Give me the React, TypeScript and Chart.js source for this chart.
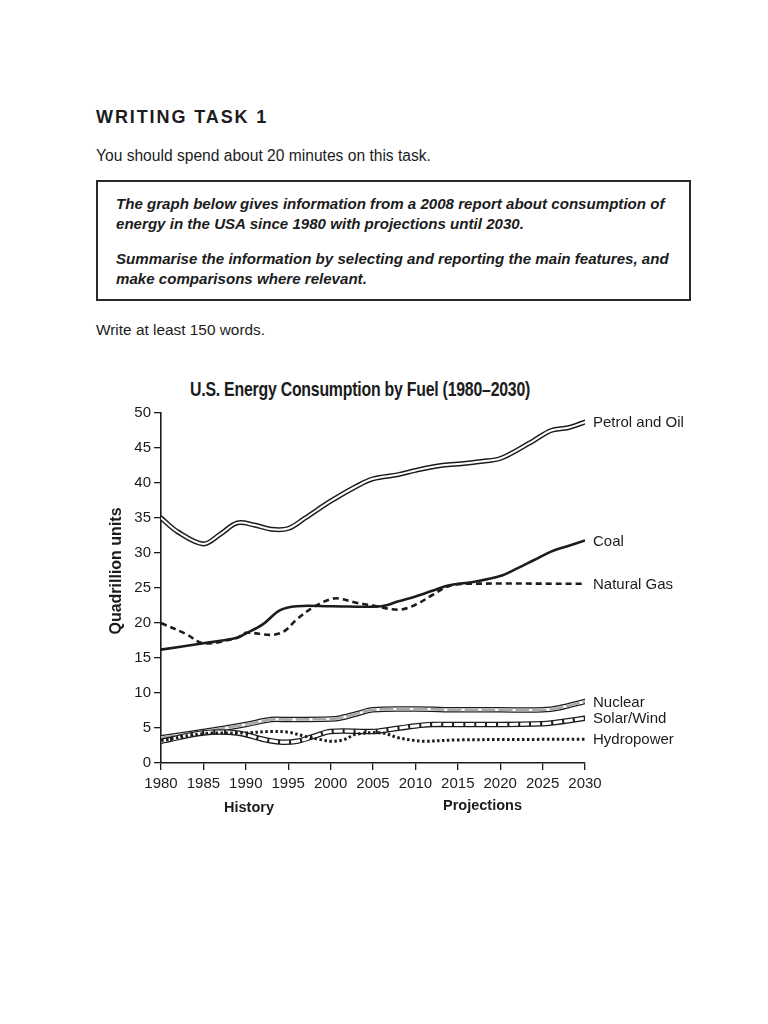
import React, { useEffect, useRef } from "react";
import { Chart, registerables } from "chart.js";

Chart.register(...registerables);

// ---------- data ----------
const xTickYears = [1980, 1985, 1990, 1995, 2000, 2005, 2010, 2015, 2020, 2025, 2030];
const yTickValues = [0, 5, 10, 15, 20, 25, 30, 35, 40, 45, 50];
const yAxisTitle = "Quadrillion units";

const petrolYears = [1980, 1982, 1985, 1987, 1989, 1991, 1993, 1995, 1997, 2000, 2003, 2005, 2008, 2010, 2013, 2015, 2018, 2020, 2022, 2024, 2026, 2028, 2030];
const petrolValues = [35.0, 33.0, 31.3, 32.7, 34.3, 34.0, 33.4, 33.5, 35.0, 37.4, 39.5, 40.6, 41.2, 41.8, 42.5, 42.7, 43.1, 43.5, 44.7, 46.1, 47.5, 47.9, 48.7];

const coalYears = [1980, 1985, 1989, 1990, 1992, 1994, 1996, 2000, 2006, 2008, 2010, 2012, 2014, 2017, 2020, 2022, 2024, 2026, 2028, 2030];
const coalValues = [16.2, 17.1, 17.9, 18.5, 19.8, 21.8, 22.4, 22.4, 22.4, 23.1, 23.8, 24.6, 25.4, 25.9, 26.7, 27.8, 29.0, 30.2, 31.0, 31.8];

const gasYears = [1980, 1983, 1985, 1989, 1990, 1993, 1994.5, 1996, 1998, 2000, 2001, 2003, 2005, 2008, 2010, 2012, 2014, 2016, 2030];
const gasValues = [20.0, 18.4, 17.1, 17.9, 18.6, 18.3, 18.8, 20.5, 22.3, 23.4, 23.5, 22.9, 22.5, 21.9, 22.6, 24.0, 25.3, 25.6, 25.6];

const nuclearYears = [1980, 1985, 1990, 1993, 1995, 2000, 2001, 2003, 2005, 2010, 2015, 2020, 2025, 2027, 2030];
const nuclearValues = [3.6, 4.5, 5.5, 6.2, 6.2, 6.3, 6.4, 7.0, 7.6, 7.7, 7.6, 7.6, 7.6, 7.9, 8.8];

const solarYears = [1980, 1985, 1989, 1992, 1994, 1996, 1998, 2000, 2005, 2007, 2010, 2012, 2015, 2020, 2025, 2026, 2030];
const solarValues = [3.1, 4.3, 4.3, 3.4, 3.0, 3.1, 3.8, 4.5, 4.5, 4.8, 5.3, 5.5, 5.5, 5.5, 5.6, 5.7, 6.4];

const hydroYears = [1980, 1985, 1990, 1993, 1995, 1997, 1999, 2000, 2001.5, 2003, 2006, 2008, 2010, 2011, 2015, 2030];
const hydroValues = [3.2, 4.2, 4.3, 4.5, 4.4, 3.8, 3.3, 3.1, 3.3, 4.1, 4.3, 3.6, 3.2, 3.1, 3.3, 3.4];

const seriesNames = ["Petrol and Oil", "Coal", "Natural Gas", "Nuclear", "Solar/Wind", "Hydropower"];

// ---------- helpers ----------
const pts = (xs: number[], ys: number[]) => xs.map((x, i) => ({ x, y: ys[i] }));
const INK = "#1c1c1c";
const FONT = "'Liberation Sans', Arial, Helvetica, sans-serif";

const endLabels = {
  id: "endLabels",
  afterDatasetsDraw(chart: any) {
    const ctx = chart.ctx;
    chart.data.datasets.forEach((ds: any, i: number) => {
      if (!ds.endLabel) return;
      const meta = chart.getDatasetMeta(i);
      const p = meta.data[meta.data.length - 1];
      if (!p) return;
      ctx.save();
      ctx.font = `15px ${FONT}`;
      ctx.fillStyle = INK;
      ctx.textBaseline = "middle";
      ctx.textAlign = "left";
      ctx.fillText(ds.endLabel, p.x + 8, p.y + 1);
      ctx.restore();
    });
  },
  afterDraw(chart: any) {
    const ctx = chart.ctx;
    ctx.save();
    ctx.font = `bold 16px ${FONT}`;
    ctx.fillStyle = INK;
    ctx.textAlign = "center";
    ctx.textBaseline = "middle";
    ctx.translate(17, 201);
    ctx.rotate(-Math.PI / 2);
    ctx.fillText(yAxisTitle, 0, 0);
    ctx.restore();
  },
};

function EnergyChart() {
  const ref = useRef<HTMLCanvasElement | null>(null);
  useEffect(() => {
    if (!ref.current) return;
    const base = { tension: 0.35, pointRadius: 0, fill: false, borderJoinStyle: "round" as const };
    const chart = new Chart(ref.current, {
      type: "line",
      data: {
        datasets: [
          // Petrol and Oil: double line
          { ...base, data: pts(petrolYears, petrolValues), borderColor: INK, borderWidth: 5, borderCapStyle: "round", order: 20 },
          { ...base, data: pts(petrolYears, petrolValues), borderColor: "#ffffff", borderWidth: 2, borderCapStyle: "round", order: 19, endLabel: seriesNames[0] } as any,
          // Coal
          { ...base, data: pts(coalYears, coalValues), borderColor: INK, borderWidth: 2.6, order: 11, endLabel: seriesNames[1] } as any,
          // Natural gas
          { ...base, data: pts(gasYears, gasValues), borderColor: INK, borderWidth: 2.6, borderDash: [6, 4], order: 10, endLabel: seriesNames[2] } as any,
          // Nuclear: outlined grey band
          { ...base, data: pts(nuclearYears, nuclearValues), borderColor: INK, borderWidth: 5.5, borderCapStyle: "round", order: 9 },
          { ...base, data: pts(nuclearYears, nuclearValues), borderColor: "#ffffff", borderWidth: 3, borderCapStyle: "round", order: 8 },
          { ...base, data: pts(nuclearYears, nuclearValues), borderColor: "#a8a8a8", borderWidth: 2.6, borderDash: [14, 3], order: 7, endLabel: seriesNames[3] } as any,
          // Solar/Wind: outlined white band with ticks
          { ...base, data: pts(solarYears, solarValues), borderColor: INK, borderWidth: 5.5, borderCapStyle: "round", order: 6 },
          { ...base, data: pts(solarYears, solarValues), borderColor: "#ffffff", borderWidth: 3, borderDash: [9, 2], borderCapStyle: "butt", order: 5, endLabel: seriesNames[4] } as any,
          // Hydropower: dotted
          { ...base, data: pts(hydroYears, hydroValues), borderColor: INK, borderWidth: 3, borderDash: [2.5, 2.5], order: 1, endLabel: seriesNames[5] } as any,
        ],
      },
      options: {
        animation: false,
        responsive: false,
        maintainAspectRatio: false,
        layout: { padding: { top: 43, right: 115, bottom: 0, left: 0 } },
        plugins: { legend: { display: false }, tooltip: { enabled: false }, title: { display: false } },
        scales: {
          x: {
            type: "linear",
            min: 1980,
            max: 2030,
            afterBuildTicks: (scale: any) => {
              scale.ticks = xTickYears.map((v) => ({ value: v }));
            },
            afterFit: (scale: any) => {
              scale.height = 67;
            },
            ticks: {
              autoSkip: false,
              maxRotation: 0,
              padding: 5,
              color: INK,
              font: { family: FONT, size: 15 },
              callback: (v: any) => String(v),
            },
            grid: { display: true, drawOnChartArea: false, drawTicks: true, tickLength: 7, color: INK, lineWidth: 1.3 },
            border: { display: true, color: INK, width: 1.6 },
          },
          y: {
            type: "linear",
            min: 0,
            max: 50,
            afterBuildTicks: (scale: any) => {
              scale.ticks = yTickValues.map((v) => ({ value: v }));
            },
            afterFit: (scale: any) => {
              scale.width = 61;
            },
            ticks: {
              padding: 3,
              color: INK,
              font: { family: FONT, size: 15 },
              callback: (v: any) => String(v),
            },
            title: { display: false },
            grid: { display: true, drawOnChartArea: false, drawTicks: true, tickLength: 7, color: INK, lineWidth: 1.3 },
            border: { display: true, color: INK, width: 1.6 },
          },
        },
      } as any,
      plugins: [endLabels],
    });
    return () => chart.destroy();
  }, []);
  return (
    <canvas
      ref={ref}
      width={600}
      height={460}
      style={{ position: "absolute", left: 100, top: 370, width: 600, height: 460 }}
    />
  );
}

const txt = (extra: React.CSSProperties): React.CSSProperties => ({
  position: "absolute",
  whiteSpace: "nowrap",
  lineHeight: 1,
  fontFamily: FONT,
  color: INK,
  margin: 0,
  ...extra,
});

export default function App() {
  return (
    <div style={{ position: "absolute", left: 0, top: 0, width: 768, height: 1024, background: "#ffffff", overflow: "hidden" }}>
      <div style={txt({ left: 96, top: 108, fontSize: 18, fontWeight: "bold", letterSpacing: 1.9 })}>WRITING TASK 1</div>
      <div style={txt({ left: 96, top: 148, fontSize: 15.6 })}>You should spend about 20 minutes on this task.</div>
      <div
        style={{
          position: "absolute",
          left: 96,
          top: 180,
          width: 591,
          height: 117,
          border: "2px solid #2a2a2a",
        }}
      />
      <div style={txt({ left: 116, top: 196, fontSize: 15.1, fontWeight: "bold", fontStyle: "italic" })}>
        The graph below gives information from a 2008 report about consumption of
      </div>
      <div style={txt({ left: 116, top: 216, fontSize: 15.1, fontWeight: "bold", fontStyle: "italic" })}>
        energy in the USA since 1980 with projections until 2030.
      </div>
      <div style={txt({ left: 116, top: 251, fontSize: 15.1, fontWeight: "bold", fontStyle: "italic" })}>
        Summarise the information by selecting and reporting the main features, and
      </div>
      <div style={txt({ left: 116, top: 271, fontSize: 15.1, fontWeight: "bold", fontStyle: "italic" })}>
        make comparisons where relevant.
      </div>
      <div style={txt({ left: 96, top: 322, fontSize: 15.4 })}>Write at least 150 words.</div>

      <div
        style={txt({
          left: 190,
          top: 378,
          fontSize: 21,
          fontWeight: "bold",
          letterSpacing: -0.3,
          transform: "scaleX(0.755)",
          transformOrigin: "left top",
        })}
      >
        U.S. Energy Consumption by Fuel (1980–2030)
      </div>

      <EnergyChart />

      <div style={txt({ left: 224, top: 800, fontSize: 14.5, fontWeight: "bold" })}>History</div>
      <div style={txt({ left: 443, top: 798, fontSize: 14.5, fontWeight: "bold" })}>Projections</div>
    </div>
  );
}
